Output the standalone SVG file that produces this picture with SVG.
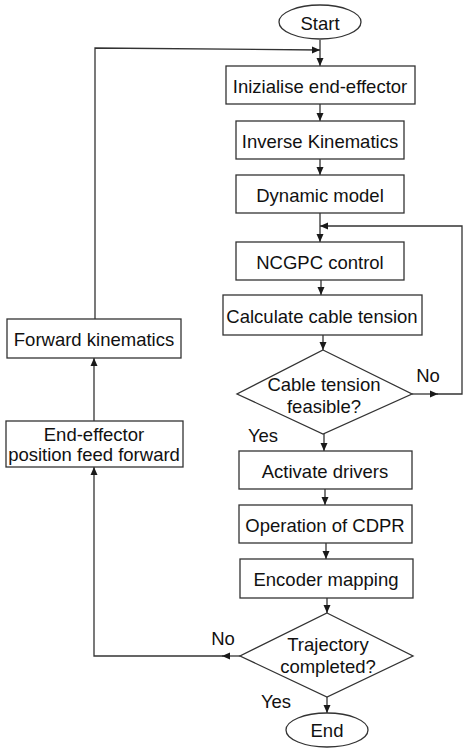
<svg xmlns="http://www.w3.org/2000/svg" width="474" height="754" viewBox="0 0 474 754">
<defs>
<marker id="ah" markerWidth="8" markerHeight="8" refX="8" refY="4" orient="auto" markerUnits="userSpaceOnUse">
<path d="M0,0.5 L8,4 L0,7.5 Z" fill="#1a1a1a"/>
</marker>
<style>
.n rect,.n ellipse,.n polygon{fill:#fff;stroke:#333;stroke-width:1.3}
text{font-family:"Liberation Sans",Arial,sans-serif;font-size:18.5px;fill:#111;text-anchor:middle;dominant-baseline:central}
.c path,.c line{fill:none;stroke:#333;stroke-width:1.3}
.a{marker-end:url(#ah)}
</style>
</defs>
<g class="c" id="connectors">
<line class="a" x1="320" y1="40" x2="320" y2="66"/>
<line class="a" x1="320" y1="104" x2="320" y2="121"/>
<line class="a" x1="320" y1="159" x2="320" y2="175"/>
<line class="a" x1="320" y1="213" x2="320" y2="242"/>
<line class="a" x1="321" y1="280" x2="321" y2="295"/>
<line class="a" x1="323" y1="335" x2="323" y2="350"/>
<line class="a" x1="324" y1="434" x2="324" y2="451"/>
<line class="a" x1="325" y1="489" x2="325" y2="505"/>
<line class="a" x1="326" y1="543" x2="326" y2="559"/>
<line class="a" x1="327" y1="598" x2="327" y2="613"/>
<line class="a" x1="327" y1="697" x2="327" y2="713"/>
<path class="a" d="M412,394 L438,394"/>
<path class="a" d="M436,394 L462,394 L462,226 L320,226"/>
<path class="a" d="M240,656 L222,656"/>
<path class="a" d="M224,656 L94,656 L94,467"/>
<path class="a" d="M94,421 L94,358"/>
<path class="a" d="M95,319 L95,48 L320,50"/>
</g>
<g class="n" id="start"><ellipse cx="320" cy="22" rx="41" ry="17"/><text x="320" y="23">Start</text></g>
<g class="n" id="init"><rect x="226" y="66" width="189" height="38"/><text x="320" y="86">Inizialise end-effector</text></g>
<g class="n" id="ik"><rect x="236" y="121" width="168" height="38"/><text x="320" y="141">Inverse Kinematics</text></g>
<g class="n" id="dyn"><rect x="236" y="175" width="168" height="38"/><text x="320" y="195">Dynamic model</text></g>
<g class="n" id="ncgpc"><rect x="236" y="242" width="168" height="38"/><text x="320" y="262">NCGPC control</text></g>
<g class="n" id="calc"><rect x="223" y="295" width="199" height="40"/><text x="322" y="316">Calculate cable tension</text></g>
<g class="n" id="feas"><polygon points="323,350 412,394 323,434 237,394"/><text x="324" y="384">Cable tension</text><text x="324" y="406">feasible?</text></g>
<g class="n" id="act"><rect x="239" y="451" width="173" height="38"/><text x="325" y="471">Activate drivers</text></g>
<g class="n" id="oper"><rect x="239" y="505" width="173" height="38"/><text x="325" y="525">Operation of CDPR</text></g>
<g class="n" id="enc"><rect x="240" y="559" width="173" height="39"/><text x="326" y="579">Encoder mapping</text></g>
<g class="n" id="traj"><polygon points="327,613 413,656 327,697 240,656"/><text x="328" y="644">Trajectory</text><text x="328" y="666">completed?</text></g>
<g class="n" id="end"><ellipse cx="327" cy="730" rx="41" ry="17"/><text x="327" y="730">End</text></g>
<g class="n" id="fk"><rect x="7" y="319" width="174" height="39"/><text x="94" y="339">Forward kinematics</text></g>
<g class="n" id="ee"><rect x="6" y="421" width="177" height="46"/><text x="94" y="434">End-effector</text><text x="94" y="454">position feed forward</text></g>
<g id="labels">
<text x="428" y="375">No</text>
<text x="263" y="435">Yes</text>
<text x="223" y="638">No</text>
<text x="276" y="701">Yes</text>
</g>
</svg>
